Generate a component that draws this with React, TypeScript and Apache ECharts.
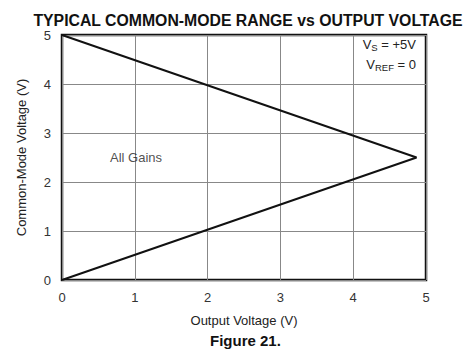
import React, { useEffect, useRef } from "react";
import * as echarts from "echarts";

const xTicks = [0, 1, 2, 3, 4, 5];
const yTicks = [0, 1, 2, 3, 4, 5];
const rangeCurve: [number, number][] = [
  [0, 0],
  [4.87, 2.5],
  [0, 5],
];
const labelAllGains = "All Gains";
const labelPoint: [number, number] = [0.66, 2.5];

export default function App() {
  const ref = useRef<HTMLDivElement>(null);
  useEffect(() => {
    if (!ref.current) return;
    const chart = echarts.init(ref.current, null, { renderer: "svg" });
    const font = "Liberation Sans, Arial, sans-serif";
    chart.setOption({
      animation: false,
      backgroundColor: "#fff",
      title: {
        text: "TYPICAL COMMON-MODE RANGE vs OUTPUT VOLTAGE",
        left: 243,
        textAlign: "center",
        top: 7,
        textStyle: { fontFamily: font, fontWeight: "bold", fontSize: 15.8, color: "#111" },
      },
      grid: {
        left: 62,
        right: 48,
        top: 35,
        bottom: 73,
        show: true,
        borderColor: "#111",
        borderWidth: 2.5,
        containLabel: false,
      },
      xAxis: {
        type: "value",
        min: 0,
        max: 5,
        interval: 1,
        name: "Output Voltage (V)",
        nameLocation: "middle",
        nameGap: 34,
        nameTextStyle: { fontFamily: font, fontSize: 13, color: "#222" },
        axisLine: { show: false },
        axisTick: { show: false },
        axisLabel: {
          fontFamily: font,
          fontSize: 13,
          color: "#333",
          margin: 11,
          formatter: (v: number) => (xTicks.includes(v) ? String(v) : ""),
        },
        splitLine: { show: true, lineStyle: { color: "#888", width: 1 } },
      },
      yAxis: {
        type: "value",
        min: 0,
        max: 5,
        interval: 1,
        name: "Common-Mode Voltage (V)",
        nameLocation: "middle",
        nameGap: 34,
        nameTextStyle: { fontFamily: font, fontSize: 13, color: "#222" },
        axisLine: { show: false },
        axisTick: { show: false },
        axisLabel: {
          fontFamily: font,
          fontSize: 13,
          color: "#333",
          margin: 11,
          formatter: (v: number) => (yTicks.includes(v) ? String(v) : ""),
        },
        splitLine: { show: true, lineStyle: { color: "#888", width: 1 } },
      },
      series: [
        {
          type: "line",
          data: rangeCurve,
          symbol: "none",
          lineStyle: { color: "#111", width: 2 },
          silent: true,
        },
        {
          type: "scatter",
          data: [labelPoint],
          symbolSize: 0,
          silent: true,
          label: {
            show: true,
            position: "right",
            distance: 0,
            formatter: labelAllGains,
            fontFamily: font,
            fontSize: 13,
            color: "#222",
          },
        },
      ],
      graphic: [
        {
          type: "text",
          right: 58,
          top: 38,
          style: {
            text: "{n|V}{s|S}{n| = +5V}",
            fontFamily: font,
            rich: {
              n: { fontSize: 13, fill: "#222", fontFamily: font },
              s: { fontSize: 9.5, fill: "#222", fontFamily: font, verticalAlign: "bottom", padding: [6, 0, 0, 0] },
            },
          },
        },
        {
          type: "text",
          right: 58,
          top: 58,
          style: {
            text: "{n|V}{s|REF}{n| = 0}",
            fontFamily: font,
            rich: {
              n: { fontSize: 13, fill: "#222", fontFamily: font },
              s: { fontSize: 9.5, fill: "#222", fontFamily: font, verticalAlign: "bottom", padding: [6, 0, 0, 0] },
            },
          },
        },
        {
          type: "text",
          left: 210,
          top: 333,
          style: {
            text: "Figure 21.",
            fontFamily: font,
            fontSize: 15,
            fontWeight: "bold",
            fill: "#111",
          },
        },
      ],
    });
    return () => chart.dispose();
  }, []);
  return <div ref={ref} style={{ width: 474, height: 353, position: "absolute", left: 0, top: 0 }} />;
}
